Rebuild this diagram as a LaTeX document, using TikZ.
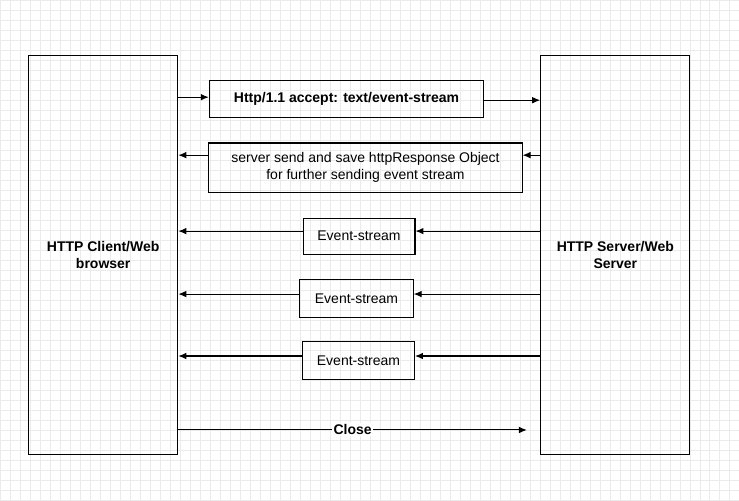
\documentclass[tikz,border=0pt]{standalone}
\usepackage{fontspec}
\setmainfont{Liberation Sans}
\usetikzlibrary{positioning,arrows.meta}

\begin{document}
\begin{tikzpicture}[x=0.75pt, y=-0.75pt, thick, font=\fontsize{10.5}{13}\selectfont,
    side/.style={draw, rectangle, minimum width=112pt, minimum height=300pt, align=center, font=\fontsize{10.5}{13}\selectfont\bfseries},
    msg/.style={draw, rectangle, align=center, inner sep=0pt},
    flow/.style={-{Latex[length=6pt,width=5pt]}, line width=0.8pt}]
    % Background grid
    \fill[white] (0,0) rectangle (739,500);
    \foreach \gx in {0,10,...,730} \draw[black!8, line width=0.4pt] (\gx,0) -- (\gx,500);
    \foreach \gy in {0,10,...,500} \draw[black!8, line width=0.4pt] (0,\gy) -- (739,\gy);
    \useasboundingbox (0,0) rectangle (739,500);
    % Nodes
    \node[side] (client) at (103,255) {HTTP Client/Web\\browser};
    \node[side] (server) at (615.5,255) {HTTP Server/Web\\Server};
    \node[msg, minimum width=206pt, minimum height=28pt, font=\fontsize{10.5}{13}\selectfont\bfseries] (req) at (346.5,98.5) {Http/1.1 accept: text/event-stream};
    \node[msg, minimum width=235pt, minimum height=37pt] (save) at (365.5,167.5) {server send and save httpResponse Object\\for further sending event stream};
    \node[msg, minimum width=84pt, minimum height=27pt] (ev1) at (359,236) {Event-stream};
    \node[msg, minimum width=85pt, minimum height=28pt] (ev2) at (356.5,298.5) {Event-stream};
    \node[msg, minimum width=84pt, minimum height=28pt] (ev3) at (358.5,360.5) {Event-stream};
    \coordinate (closeend) at (527,430);

    % Connections
    \draw[flow] (client.east |- 0,97) -- (req.west |- 0,97);
    \draw[flow] (req.east |- 0,100) -- (server.west |- 0,100);
    \draw[flow] (server.west |- 0,155) -- (save.east |- 0,155);
    \draw[flow] (save.west |- 0,155) -- (client.east |- 0,155);
    \foreach \ev/\y in {ev1/231, ev2/294, ev3/356} {
        \draw[flow] (server.west |- 0,\y) -- (\ev.east |- 0,\y);
        \draw[flow] (\ev.west |- 0,\y) -- (client.east |- 0,\y);
    }
    \draw[flow] (client.east |- closeend) -- node[fill=white, inner sep=1pt, font=\fontsize{10.5}{13}\selectfont\bfseries] {Close} (closeend);
\end{tikzpicture}
\end{document}
